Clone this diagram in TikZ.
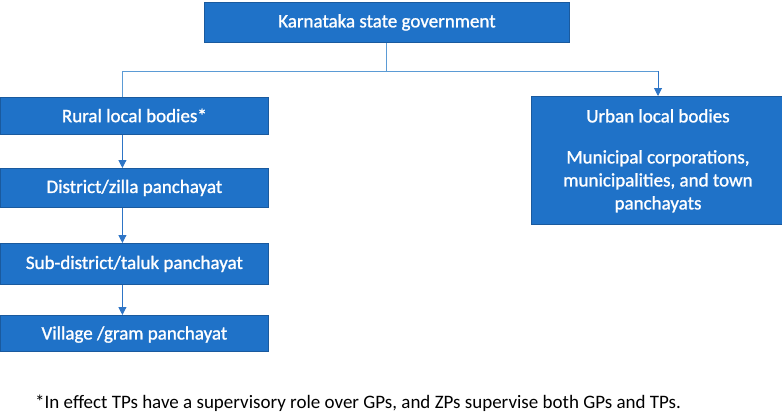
\documentclass[tikz,border=0pt]{standalone}
\usepackage{fontspec}
\setmainfont{Carlito}
\newfontfamily\boxfont[FakeBold=1.2]{Carlito}
\usetikzlibrary{arrows.meta}
\definecolor{boxfill}{HTML}{1F72C8}
\definecolor{boxline}{HTML}{1A5A9E}
\definecolor{conn}{HTML}{2E75C6}
\definecolor{connlight}{HTML}{5B9BD5}
\tikzset{
  bluebox/.style={draw=boxline, line width=0.8pt, fill=boxfill, text=white, font=\boxfont\fontsize{19}{23}\selectfont, inner sep=0pt, anchor=north west},
  arr/.style={draw=conn, line width=1pt, -{Triangle[width=8pt,length=8pt]}},
  plain/.style={draw=connlight, line width=1pt}
}
\begin{document}
\begin{tikzpicture}[x=1pt,y=-1pt]
\useasboundingbox (0,0) rectangle (782,415);
\node[bluebox, minimum width=365pt, minimum height=40pt] (top) at (204,2) {Karnataka state government};
\node[bluebox, minimum width=268pt, minimum height=37pt, text depth=1pt] (rural) at (0,97) {Rural local bodies*};
\node[bluebox, minimum width=268pt, minimum height=39pt] (dist) at (0,168) {District/zilla panchayat};
\node[bluebox, minimum width=268pt, minimum height=41pt] (sub) at (0,243) {Sub-district/taluk panchayat};
\node[bluebox, minimum width=268pt, minimum height=36pt, text depth=1pt] (vill) at (0,315) {Village /gram panchayat};
\node[bluebox, minimum width=252pt, minimum height=128pt] (urban) at (531,96) {};
\node[text=white, font=\boxfont\fontsize{19}{23}\selectfont, align=center, anchor=north, inner sep=0pt] (urbantxt) at (658,109) {Urban local bodies\\[18pt]Municipal corporations,\\municipalities, and town\\panchayats};
\node[font=\fontsize{19}{23}\selectfont, anchor=west, inner sep=0pt] (note) at (35,403) {*In effect TPs have a supervisory role over GPs, and ZPs supervise both GPs and TPs.};
\coordinate (split) at (top.south |- 0,71);
\coordinate (lft) at (122,71);
\coordinate (rgt) at (658,71);
\draw[plain] (top.south) -- (split);
\draw[plain] (lft) -- (rgt);
\draw[plain] (lft) -- (lft |- rural.north);
\draw[arr] (rgt) -- (rgt |- urban.north);
\draw[arr] ([xshift=-12pt]rural.south) -- ([xshift=-12pt]dist.north);
\draw[arr] ([xshift=-12pt]dist.south) -- ([xshift=-12pt]sub.north);
\draw[arr] ([xshift=-12pt]sub.south) -- ([xshift=-12pt]vill.north);
\end{tikzpicture}
\end{document}
